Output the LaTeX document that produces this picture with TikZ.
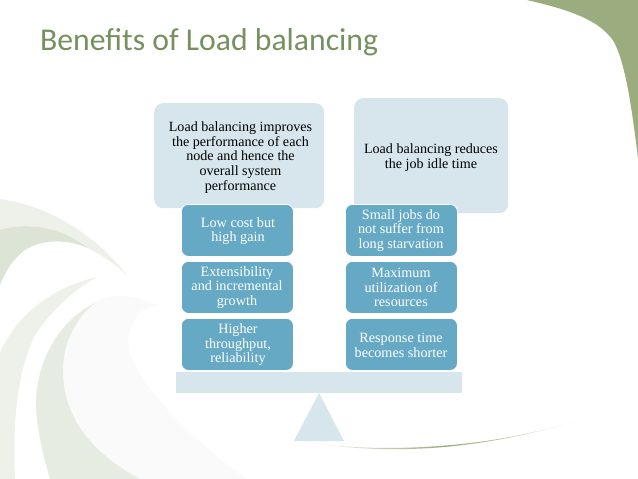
\documentclass[tikz,border=0pt]{standalone}
\usepackage{fontspec}
\setmainfont{Liberation Serif}
\newfontfamily\titlefont{Carlito}
\definecolor{paleblue}{HTML}{D7E5EC}
\definecolor{tealbox}{HTML}{66A9C5}
\definecolor{leaf}{HTML}{9BAC7E}
\definecolor{titlegreen}{HTML}{76905F}
\definecolor{swA}{HTML}{EEF1EA}
\definecolor{swB}{HTML}{DCE4D6}
\definecolor{swC}{HTML}{E7ECE3}
\definecolor{swD}{HTML}{FAFAFA}
\tikzset{
  x=1pt,y=-1pt,
  bigbox/.style={fill=paleblue,rounded corners=9pt,draw=none},
  smallbox/.style={fill=tealbox,draw=white,line width=0.8pt,rounded corners=7pt},
  darktext/.style={align=center,font=\fontsize{14.1}{14.8}\selectfont,text=black,inner sep=0pt},
  lighttext/.style={align=center,font=\fontsize{14.2}{14.6}\selectfont,text=white,inner sep=0pt},
}
\begin{document}
\begin{tikzpicture}
\useasboundingbox (0,0) rectangle (638,479);
\fill[white] (0,0) rectangle (638,479);
% background swooshes
\fill[leaf] (527,0) .. controls (570,10) and (600,20) .. (614,42) .. controls (626,65) and (632,110) .. (638,158) -- (638,0) -- cycle;
\fill[swA] (0,199) .. controls (50,206) and (95,235) .. (127,275) .. controls (115,264) and (100,254) .. (88,248) .. controls (60,226) and (25,222) .. (0,230) -- cycle;
\fill[swB] (0,230) .. controls (25,222) and (60,226) .. (88,248) .. controls (65,238) and (40,240) .. (25,250) .. controls (12,260) and (5,272) .. (0,285) -- cycle;
\fill[swA] (97,277) .. controls (50,288) and (18,315) .. (0,352) -- (0,479) -- (15,479) .. controls (12,420) and (18,370) .. (35,335) .. controls (48,315) and (70,292) .. (97,277) -- cycle;
\fill[swD] (95,303) .. controls (110,292) and (135,295) .. (155,305) .. controls (135,310) and (126,330) .. (129,350) .. controls (135,380) and (190,440) .. (247,479) -- (140,479) .. controls (95,455) and (63,420) .. (63,370) .. controls (63,345) and (75,318) .. (95,303) -- cycle;
\fill[swC] (95,303) .. controls (60,320) and (36,360) .. (36,405) .. controls (37,430) and (43,455) .. (50,479) -- (140,479) .. controls (95,455) and (63,420) .. (63,370) .. controls (63,345) and (75,318) .. (95,303) -- cycle;
\shade[left color=white,right color=white,middle color=leaf] (300,441) .. controls (360,452) and (480,454) .. (590,416) .. controls (490,450) and (390,457) .. (300,441) -- cycle;
% title
\node[anchor=west,inner sep=0pt,text=titlegreen,font=\titlefont\fontsize{31.7}{36}\selectfont] (title) at (40,42) {Benefits of Load balancing};
% scale
\fill[paleblue] (176,372) rectangle (462,393);
\fill[paleblue] (294,441) -- (319,393) -- (344,441) -- cycle;
% big boxes
\node[bigbox,minimum width=170pt,minimum height=105pt,anchor=north west] (left) at (154,103) {};
\node[bigbox,minimum width=154pt,minimum height=115pt,anchor=north west] (right) at (354,98) {};
\node[darktext] (lt) at (240.5,157.5) {Load balancing improves\\the performance of each\\node and hence the\\overall system\\performance};
\node[darktext] (rt) at (431,157.5) {Load balancing reduces\\the job idle time};
% small boxes
\node[smallbox,minimum width=112pt,minimum height=52pt,anchor=north west] (a1) at (181,204) {};
\node[smallbox,minimum width=112pt,minimum height=52pt,anchor=north west] (a2) at (181,261) {};
\node[smallbox,minimum width=112pt,minimum height=52pt,anchor=north west] (a3) at (181,318) {};
\node[smallbox,minimum width=112pt,minimum height=52pt,anchor=north west] (b1) at (345,204) {};
\node[smallbox,minimum width=112pt,minimum height=52pt,anchor=north west] (b2) at (345,261) {};
\node[smallbox,minimum width=112pt,minimum height=52pt,anchor=north west] (b3) at (345,318) {};
\node[lighttext] at (238,231) {Low cost but\\high gain};
\node[lighttext] at (237,287.5) {Extensibility\\and incremental\\growth};
\node[lighttext] at (238,345) {Higher\\throughput,\\reliability};
\node[lighttext] at (401,230.5) {Small jobs do\\not suffer from\\long starvation};
\node[lighttext] at (401,287.5) {Maximum\\utilization of\\resources};
\node[lighttext] at (401,345.5) {Response time\\becomes shorter};
\end{tikzpicture}
\end{document}
